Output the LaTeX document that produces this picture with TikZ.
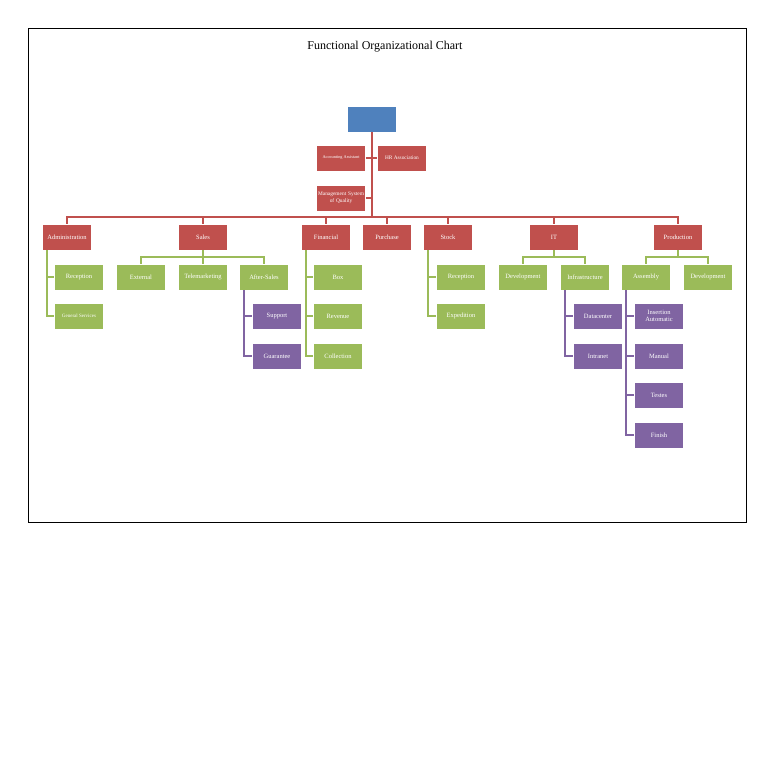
\documentclass[tikz,border=0pt]{standalone}
\usepackage{fontspec}
\setmainfont{Liberation Serif}
\usepackage{tikz}
\usetikzlibrary{positioning}

\begin{document}
\begin{tikzpicture}[x=1pt, y=-1pt,
    box/.style={draw=white, line width=0.6pt, minimum width=49pt, minimum height=26pt,
        inner sep=1pt, align=center, text=white, font=\fontsize{6.5}{7}\selectfont},
    boss/.style={box, fill={rgb,255:red,79;green,129;blue,189}},
    dept/.style={box, fill={rgb,255:red,192;green,80;blue,77}},
    unit/.style={box, fill={rgb,255:red,155;green,187;blue,89}},
    task/.style={box, fill={rgb,255:red,128;green,100;blue,162}},
    redline/.style={draw={rgb,255:red,192;green,80;blue,77}, line width=2pt},
    greenline/.style={draw={rgb,255:red,155;green,187;blue,89}, line width=1.6pt},
    purpleline/.style={draw={rgb,255:red,128;green,100;blue,162}, line width=1.6pt}]
    \useasboundingbox (0,0) rectangle (768,762);
    \draw[line width=0.8pt] (28,28) rectangle (746,522);
    \node[font=\fontsize{12}{14}\selectfont] (title) at (385,47) {Functional Organizational Chart};

    % top
    \node[boss] (top) at (372,119) {};
    \node[dept, font=\fontsize{4.3}{5}\selectfont] (acc) at (341,158) {Accounting Assistant};
    \node[dept, font=\fontsize{5.3}{6}\selectfont] (hr) at (402,158) {HR Association};
    \node[dept, font=\fontsize{5.4}{6.5}\selectfont, text width=47pt, inner sep=0pt] (msq) at (341,198) {Management System\\of Quality};
    \coordinate (bus) at (372,217);

    % departments
    \node[dept] (admin) at (67,237) {Administration};
    \node[dept] (sales) at (203,237) {Sales};
    \node[dept] (fin) at (326,237) {Financial};
    \node[dept] (pur) at (387,237) {Purchase};
    \node[dept] (stock) at (448,237) {Stock};
    \node[dept] (it) at (554,237) {IT};
    \node[dept] (prod) at (678,237) {Production};

    % units
    \node[unit] (adrec) at (79,277) {Reception};
    \node[unit, font=\fontsize{5}{6}\selectfont] (adgen) at (79,316) {General Services};
    \node[unit] (ext) at (141,277) {External};
    \node[unit] (tele) at (203,277) {Telemarketing};
    \node[unit] (after) at (264,277) {After-Sales};
    \node[unit] (box) at (338,277) {Box};
    \node[unit] (rev) at (338,316) {Revenue};
    \node[unit] (coll) at (338,356) {Collection};
    \node[unit] (strec) at (461,277) {Reception};
    \node[unit] (exped) at (461,316) {Expedition};
    \node[unit] (itdev) at (523,277) {Development};
    \node[unit] (infra) at (585,277) {Infrastructure};
    \node[unit] (assem) at (646,277) {Assembly};
    \node[unit] (prdev) at (708,277) {Development};

    % tasks
    \node[task] (supp) at (277,316) {Support};
    \node[task] (guar) at (277,356) {Guarantee};
    \node[task] (data) at (598,316) {Datacenter};
    \node[task] (intra) at (598,356) {Intranet};
    \node[task] (ins) at (659,316) {Insertion\\Automatic};
    \node[task] (man) at (659,356) {Manual};
    \node[task] (test) at (659,395) {Testes};
    \node[task] (fini) at (659,435) {Finish};

    % red lines
    \draw[redline] (top.south) -- (bus);
    \draw[redline] (acc.east) -- (hr.west);
    \draw[redline] (msq.east) -- (msq.east -| top.south);
    \foreach \d in {admin, sales, fin, pur, stock, it, prod}
        \draw[redline] (\d.north) |- (bus);

    % green lines
    \coordinate (salesbus) at (203,257);
    \coordinate (itbus) at (554,257);
    \coordinate (prodbus) at (678,257);
    \draw[greenline] (sales.south) -- (salesbus);
    \foreach \u in {ext, tele, after}
        \draw[greenline] (\u.north) |- (salesbus);
    \draw[greenline] (it.south) -- (itbus);
    \foreach \u in {itdev, infra}
        \draw[greenline] (\u.north) |- (itbus);
    \draw[greenline] (prod.south) -- (prodbus);
    \foreach \u in {assem, prdev}
        \draw[greenline] (\u.north) |- (prodbus);
    \foreach \u in {adrec, adgen}
        \draw[greenline] ([xshift=5pt]admin.south west) |- (\u.west);
    \foreach \u in {box, rev, coll}
        \draw[greenline] ([xshift=5pt]fin.south west) |- (\u.west);
    \foreach \u in {strec, exped}
        \draw[greenline] ([xshift=5pt]stock.south west) |- (\u.west);

    % purple lines
    \foreach \t in {supp, guar}
        \draw[purpleline] ([xshift=5pt]after.south west) |- (\t.west);
    \foreach \t in {data, intra}
        \draw[purpleline] ([xshift=5pt]infra.south west) |- (\t.west);
    \foreach \t in {ins, man, test, fini}
        \draw[purpleline] ([xshift=5pt]assem.south west) |- (\t.west);
\end{tikzpicture}
\end{document}
